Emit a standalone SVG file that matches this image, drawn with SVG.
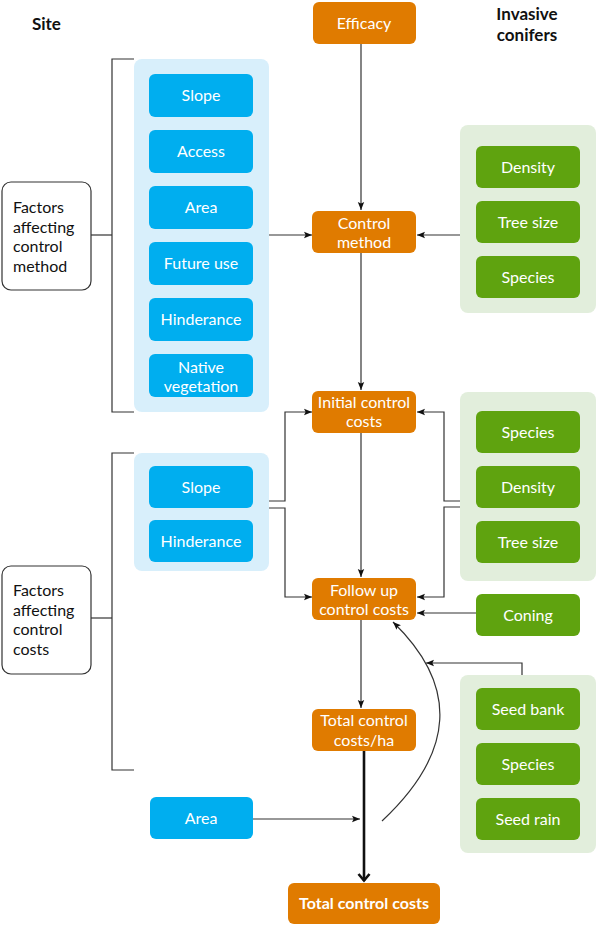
<svg xmlns="http://www.w3.org/2000/svg" width="597" height="928" viewBox="0 0 597 928">
<defs>
<style>
text{font-family:Lato,"Open Sans","Liberation Sans",sans-serif;font-size:16px;}
.w{fill:#fff;text-anchor:middle;}
.k{fill:#111;}
.h{fill:#111;font-weight:bold;font-size:17px;}
.o{fill:#E07B00;}
.b{fill:#00AEEF;}
.g{fill:#5FA30F;}
.bp{fill:#D8EFFB;}
.gp{fill:#E2EEDC;}
.fb{fill:#fff;stroke:#333;stroke-width:1.2;}
.ln{fill:none;stroke:#333;stroke-width:1.2;}
</style>
<marker id="ah" viewBox="0 0 10 10" refX="10" refY="5" markerWidth="8" markerHeight="8" markerUnits="userSpaceOnUse" orient="auto">
<path d="M0,1 L10,5 L0,9 L2,5 z" fill="#111"/>
</marker>
<marker id="chev" viewBox="0 0 12 14" refX="10" refY="7" markerWidth="12" markerHeight="14" markerUnits="userSpaceOnUse" orient="auto">
<path d="M3,1.5 L9.5,7 L3,12.5" fill="none" stroke="#111" stroke-width="2.6"/>
</marker>
</defs>
<rect width="597" height="928" fill="#fff"/>
<text class="h" x="32" y="30">Site</text>
<text class="h" x="527" y="20" text-anchor="middle" font-size="18">Invasive</text>
<text class="h" x="527" y="41" text-anchor="middle" font-size="18">conifers</text>

<g id="connectors">
<path class="ln" d="M134,59 H112 V412 H134"/>
<path class="ln" d="M91,235 H112"/>
<path class="ln" d="M134,453 H112 V770 H134"/>
<path class="ln" d="M91,618 H112"/>
<path class="ln" d="M269,235 H312" marker-end="url(#ah)"/>
<path class="ln" d="M460,235 H417" marker-end="url(#ah)"/>
<path class="ln" d="M361,44 V210" marker-end="url(#ah)"/>
<path class="ln" d="M361,253 V390" marker-end="url(#ah)"/>
<path class="ln" d="M361,433 V577" marker-end="url(#ah)"/>
<path class="ln" d="M361,620 V708" marker-end="url(#ah)"/>
<path class="ln" d="M269,501 H285 V412 H312" marker-end="url(#ah)"/>
<path class="ln" d="M269,508 H285 V597 H312" marker-end="url(#ah)"/>
<path class="ln" d="M460,501 H444 V412 H417" marker-end="url(#ah)"/>
<path class="ln" d="M460,507 H444 V597 H417" marker-end="url(#ah)"/>
<path class="ln" d="M476,613 H417" marker-end="url(#ah)"/>
<path class="ln" d="M382,821 Q492,718 393,622" marker-end="url(#ah)"/>
<path class="ln" d="M522,675 V663 H426" marker-end="url(#ah)"/>
<path class="ln" d="M253,819 H360" marker-end="url(#ah)"/>
<path fill="none" stroke="#111" stroke-width="2.6" d="M364,751 V881" marker-end="url(#chev)"/>
</g>

<g id="site-panel-1">
<rect class="bp" x="134" y="59" width="135" height="353" rx="8"/>
</g>
<g id="slope-1"><rect class="b" x="149" y="74" width="104" height="43" rx="6"/><text class="w" x="201" y="101">Slope</text></g>
<g id="access"><rect class="b" x="149" y="130" width="104" height="43" rx="6"/><text class="w" x="201" y="157">Access</text></g>
<g id="area-1"><rect class="b" x="149" y="186" width="104" height="43" rx="6"/><text class="w" x="201" y="213">Area</text></g>
<g id="future-use"><rect class="b" x="149" y="242" width="104" height="43" rx="6"/><text class="w" x="201" y="269">Future use</text></g>
<g id="hinderance-1"><rect class="b" x="149" y="298" width="104" height="43" rx="6"/><text class="w" x="201" y="325">Hinderance</text></g>
<g id="native-vegetation"><rect class="b" x="149" y="354" width="104" height="43" rx="6"/><text class="w" x="201" y="373">Native</text><text class="w" x="201" y="392">vegetation</text></g>

<g id="factors-method"><rect class="fb" x="2" y="182" width="89" height="108" rx="9"/>
<text class="k" x="13" y="213">Factors</text><text class="k" x="13" y="233">affecting</text><text class="k" x="13" y="252">control</text><text class="k" x="13" y="272">method</text></g>

<g id="site-panel-2"><rect class="bp" x="134" y="453" width="135" height="118" rx="8"/></g>
<g id="slope-2"><rect class="b" x="149" y="466" width="104" height="42" rx="6"/><text class="w" x="201" y="493">Slope</text></g>
<g id="hinderance-2"><rect class="b" x="149" y="520" width="104" height="42" rx="6"/><text class="w" x="201" y="547">Hinderance</text></g>

<g id="factors-costs"><rect class="fb" x="2" y="566" width="89" height="108" rx="9"/>
<text class="k" x="13" y="596">Factors</text><text class="k" x="13" y="616">affecting</text><text class="k" x="13" y="635">control</text><text class="k" x="13" y="655">costs</text></g>

<g id="efficacy"><rect class="o" x="313" y="2" width="103" height="42" rx="6"/><text class="w" x="364" y="29">Efficacy</text></g>
<g id="control-method"><rect class="o" x="312" y="211" width="104" height="42" rx="6"/><text class="w" x="364" y="229">Control</text><text class="w" x="364" y="248">method</text></g>
<g id="initial-costs"><rect class="o" x="312" y="391" width="104" height="42" rx="6"/><text class="w" x="364" y="408">Initial control</text><text class="w" x="364" y="427">costs</text></g>
<g id="follow-up-costs"><rect class="o" x="312" y="578" width="104" height="42" rx="6"/><text class="w" x="364" y="596">Follow up</text><text class="w" x="364" y="615">control costs</text></g>
<g id="total-per-ha"><rect class="o" x="312" y="709" width="104" height="42" rx="6"/><text class="w" x="364" y="726">Total control</text><text class="w" x="364" y="746">costs/ha</text></g>
<g id="total-costs"><rect class="o" x="288" y="883" width="152" height="41" rx="6"/><text class="w" x="364" y="909" font-weight="bold" font-size="16.5">Total control costs</text></g>

<g id="area-2"><rect class="b" x="150" y="797" width="103" height="42" rx="6"/><text class="w" x="201" y="824">Area</text></g>

<g id="conifer-panel-1"><rect class="gp" x="460" y="125" width="136" height="188" rx="8"/></g>
<g id="density-1"><rect class="g" x="476" y="146" width="104" height="42" rx="6"/><text class="w" x="528" y="173">Density</text></g>
<g id="tree-size-1"><rect class="g" x="476" y="201" width="104" height="42" rx="6"/><text class="w" x="528" y="228">Tree size</text></g>
<g id="species-1"><rect class="g" x="476" y="256" width="104" height="42" rx="6"/><text class="w" x="528" y="283">Species</text></g>

<g id="conifer-panel-2"><rect class="gp" x="460" y="392" width="136" height="189" rx="8"/></g>
<g id="species-2"><rect class="g" x="476" y="411" width="104" height="42" rx="6"/><text class="w" x="528" y="438">Species</text></g>
<g id="density-2"><rect class="g" x="476" y="466" width="104" height="42" rx="6"/><text class="w" x="528" y="493">Density</text></g>
<g id="tree-size-2"><rect class="g" x="476" y="521" width="104" height="42" rx="6"/><text class="w" x="528" y="548">Tree size</text></g>

<g id="coning"><rect class="g" x="476" y="594" width="104" height="42" rx="6"/><text class="w" x="528" y="621">Coning</text></g>

<g id="conifer-panel-3"><rect class="gp" x="460" y="675" width="136" height="178" rx="8"/></g>
<g id="seed-bank"><rect class="g" x="476" y="688" width="104" height="42" rx="6"/><text class="w" x="528" y="715">Seed bank</text></g>
<g id="species-3"><rect class="g" x="476" y="743" width="104" height="42" rx="6"/><text class="w" x="528" y="770">Species</text></g>
<g id="seed-rain"><rect class="g" x="476" y="798" width="104" height="42" rx="6"/><text class="w" x="528" y="825">Seed rain</text></g>
</svg>
